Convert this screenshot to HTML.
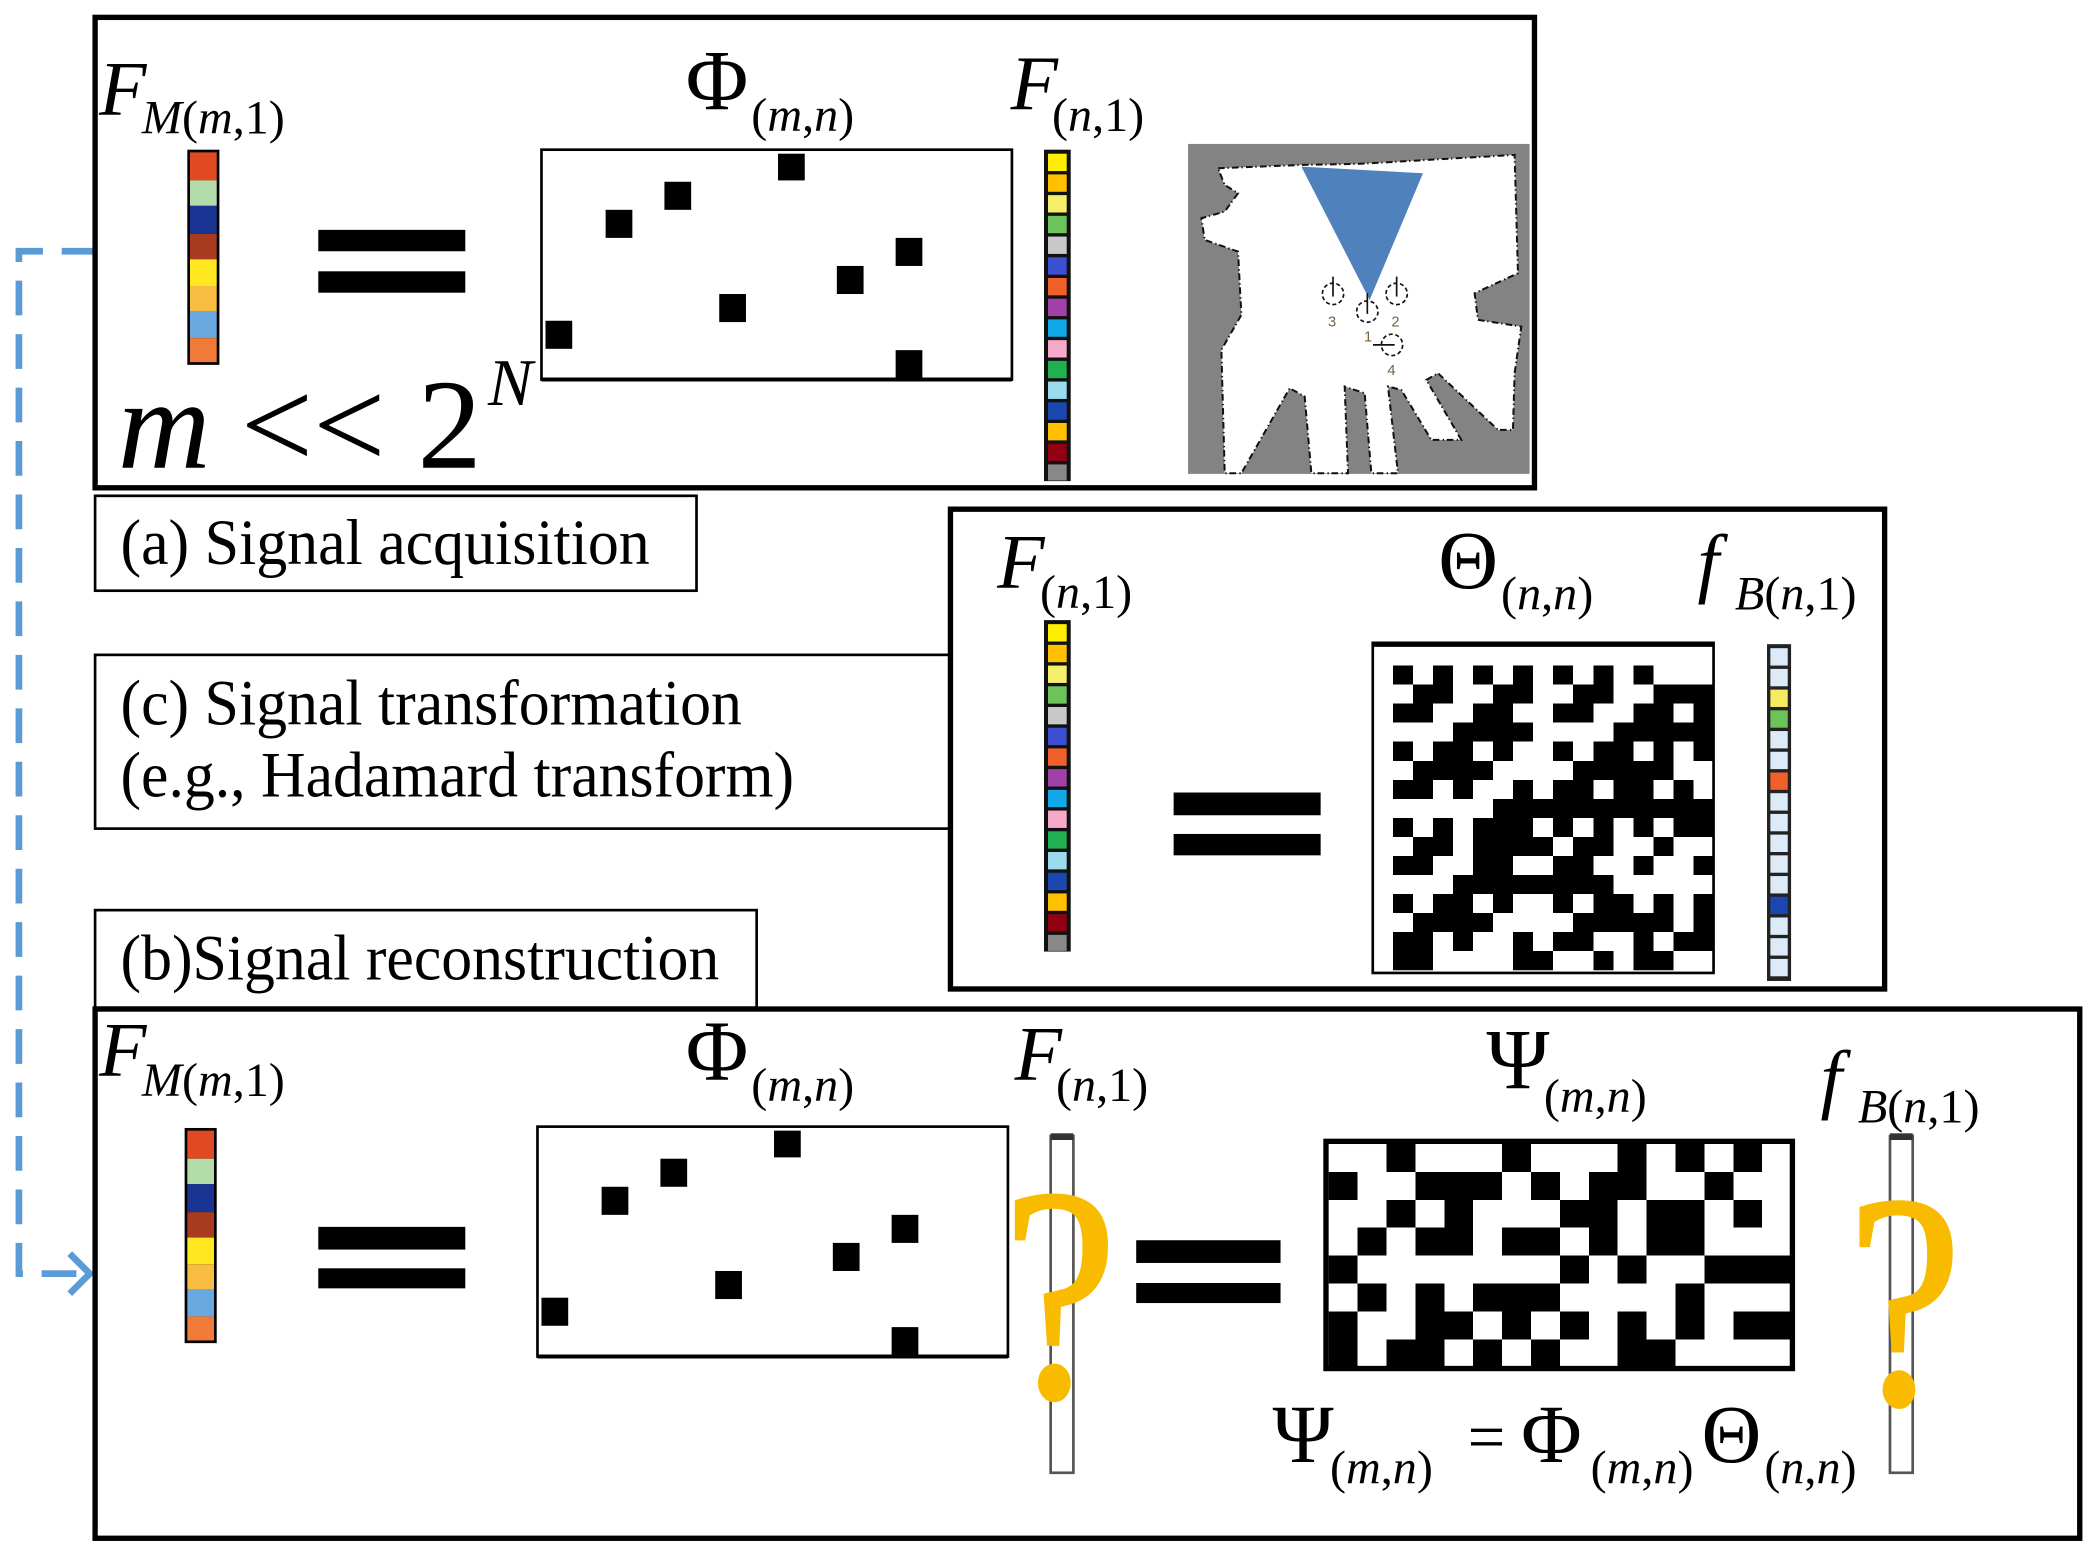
<!DOCTYPE html>
<html><head><meta charset="utf-8">
<style>html,body{margin:0;padding:0;background:#fff}svg{display:block}</style>
</head><body>
<svg xmlns="http://www.w3.org/2000/svg" width="2096" height="1565" viewBox="0 0 1568 1171" font-family="'Liberation Serif', serif">
<defs>
<g id="fbar">
<rect x="0" y="0" width="20" height="248" fill="#111"/>
<g transform="translate(3,3)">
<rect y="0" width="14" height="13" fill="#ffee00"/>
<rect y="15.5" width="14" height="13" fill="#ffc000"/>
<rect y="31" width="14" height="13" fill="#f5ef6a"/>
<rect y="46.5" width="14" height="13" fill="#6cc35a"/>
<rect y="62" width="14" height="13" fill="#c8c8c8"/>
<rect y="77.5" width="14" height="13" fill="#3c4fd0"/>
<rect y="93" width="14" height="13" fill="#f0602a"/>
<rect y="108.5" width="14" height="13" fill="#a040a8"/>
<rect y="124" width="14" height="13" fill="#10a8e8"/>
<rect y="139.5" width="14" height="13" fill="#f8a8c8"/>
<rect y="155" width="14" height="13" fill="#20b050"/>
<rect y="170.5" width="14" height="13" fill="#98dced"/>
<rect y="186" width="14" height="13" fill="#1a48b0"/>
<rect y="201.5" width="14" height="13" fill="#ffc000"/>
<rect y="217" width="14" height="13" fill="#900010"/>
<rect y="232.5" width="14" height="12" fill="#888"/>
</g>
</g>
<g id="fmbar">
<rect x="0" y="0" width="24" height="161" fill="#000"/>
<rect x="2" y="2" width="20" height="21" fill="#e04a22"/>
<rect x="2" y="23" width="20" height="19" fill="#b4dca8"/>
<rect x="2" y="42" width="20" height="21" fill="#1a3494"/>
<rect x="2" y="63" width="20" height="19" fill="#a83a20"/>
<rect x="2" y="82" width="20" height="20" fill="#ffe820"/>
<rect x="2" y="102" width="20" height="19" fill="#f8bc40"/>
<rect x="2" y="121" width="20" height="20" fill="#6aa8e0"/>
<rect x="2" y="141" width="20" height="18" fill="#f07a38"/>
</g>
<g id="phi">
<rect x="0" y="0" width="352" height="172" fill="#fff" stroke="#000" stroke-width="2"/>
<line x1="0" y1="172" x2="352" y2="172" stroke="#000" stroke-width="3"/>
<rect x="177" y="3" width="20" height="20"/>
<rect x="92" y="24" width="20" height="21"/>
<rect x="48" y="45" width="20" height="21"/>
<rect x="265" y="66" width="20" height="21"/>
<rect x="221" y="87" width="20" height="21"/>
<rect x="133" y="108" width="20" height="21"/>
<rect x="3" y="128" width="20" height="21"/>
<rect x="265" y="150" width="20" height="21"/>
</g>
</defs>

<!-- dashed connector -->
<path d="M72 188 H14 V953 H62" fill="none" stroke="#5b9bd5" stroke-width="5" stroke-dasharray="26 14"/>
<path d="M52 938 L67 953 L52 968" fill="none" stroke="#5b9bd5" stroke-width="5"/>

<!-- Box A -->
<rect x="71" y="13" width="1077" height="352" fill="none" stroke="#000" stroke-width="4"/>
<text x="74" y="86" font-size="58" font-style="italic">F</text>
<text x="106" y="100" font-size="36"><tspan font-style="italic">M</tspan>(<tspan font-style="italic">m</tspan>,1)</text>
<use href="#fmbar" x="140" y="112"/>
<rect x="238" y="172" width="110" height="16"/>
<rect x="238" y="203" width="110" height="16"/>
<use href="#phi" x="405" y="112"/>
<text x="513" y="82" font-size="64">Φ</text>
<text x="562" y="98" font-size="36">(<tspan font-style="italic">m</tspan>,<tspan font-style="italic">n</tspan>)</text>
<text x="756" y="82" font-size="58" font-style="italic">F</text>
<text x="787" y="98" font-size="36">(<tspan font-style="italic">n</tspan>,1)</text>
<use href="#fbar" x="781" y="112"/>
<text x="88" y="350" font-size="96" font-style="italic">m</text>
<text x="180" y="350" font-size="96">&lt;&lt; 2</text>
<text x="365" y="303" font-size="50" font-style="italic">N</text>

<!-- map -->
<svg x="886.3" y="104.7" width="261.8" height="258.1" viewBox="0 0 1050 1035" preserveAspectRatio="none">
<rect x="10" y="12" width="1025" height="990" fill="#838383"/>
<polygon points="100,85 350,75 520,72 990,45 1000,400 870,460 880,540 1010,560 990,700 985,870 940,870 760,700 725,720 830,900 740,900 650,750 610,740 640,1000 560,1000 540,760 480,740 490,1000 380,1000 360,770 315,745 170,1000 120,1000 110,630 170,525 160,335 60,300 50,235 120,215 160,160 120,135" fill="#fff" stroke="#111" stroke-width="6" stroke-dasharray="20 8 4 10"/>
<polygon points="350,80 715,100 555,480" fill="#4f81bd"/>
<g fill="none" stroke="#111" stroke-width="5" stroke-dasharray="12 8">
<circle cx="445" cy="462" r="32"/><circle cx="548" cy="515" r="32"/><circle cx="636" cy="462" r="32"/><circle cx="622" cy="615" r="32"/>
</g>
<g stroke="#111" stroke-width="5"><line x1="445" y1="410" x2="445" y2="470"/><line x1="548" y1="460" x2="548" y2="522"/><line x1="636" y1="410" x2="636" y2="470"/><line x1="565" y1="615" x2="630" y2="615"/></g>
<g font-family="'Liberation Sans',sans-serif" font-size="44" fill="#7a6040"><text x="430" y="560">3</text><text x="620" y="560">2</text><text x="538" y="605">1</text><text x="608" y="705">4</text></g>
</svg>

<!-- (a) label -->
<rect x="71" y="371" width="450" height="71" fill="none" stroke="#000" stroke-width="2"/>
<text x="90" y="422" font-size="48" textLength="396" lengthAdjust="spacingAndGlyphs">(a) Signal acquisition</text>

<!-- (c) label -->
<rect x="71" y="490" width="640" height="130" fill="none" stroke="#000" stroke-width="2"/>
<text x="90" y="542" font-size="48" textLength="465" lengthAdjust="spacingAndGlyphs">(c) Signal transformation</text>
<text x="90" y="596" font-size="48" textLength="504" lengthAdjust="spacingAndGlyphs">(e.g., Hadamard transform)</text>

<!-- Box C -->
<rect x="711" y="381" width="699" height="359" fill="#fff" stroke="#000" stroke-width="4"/>
<text x="746" y="440" font-size="58" font-style="italic">F</text>
<text x="778" y="455" font-size="36">(<tspan font-style="italic">n</tspan>,1)</text>
<use href="#fbar" x="781" y="464"/>
<rect x="878" y="593" width="110" height="17"/>
<rect x="878" y="624" width="110" height="16"/>
<text x="1076" y="440" font-size="62">Θ</text>
<text x="1123" y="456" font-size="36">(<tspan font-style="italic">n</tspan>,<tspan font-style="italic">n</tspan>)</text>
<text x="1270" y="440" font-size="58" font-style="italic">f</text>
<text x="1298" y="456" font-size="36"><tspan font-style="italic">B</tspan>(<tspan font-style="italic">n</tspan>,1)</text>
<rect x="1027" y="481" width="255" height="247" fill="#fff" stroke="#000" stroke-width="2"/>
<line x1="1027" y1="482" x2="1282" y2="482" stroke="#000" stroke-width="4"/>
<svg x="1042" y="498" width="240" height="228" viewBox="0 0 16 16" preserveAspectRatio="none" shape-rendering="crispEdges">
<g fill="#000">
<rect x="0" y="0" width="1" height="1"/><rect x="2" y="0" width="1" height="1"/><rect x="4" y="0" width="1" height="1"/><rect x="6" y="0" width="1" height="1"/><rect x="8" y="0" width="1" height="1"/><rect x="10" y="0" width="1" height="1"/><rect x="12" y="0" width="1" height="1"/>
<rect x="1" y="1" width="2" height="1"/><rect x="5" y="1" width="2" height="1"/><rect x="9" y="1" width="2" height="1"/><rect x="13" y="1" width="3" height="1"/>
<rect x="0" y="2" width="2" height="1"/><rect x="4" y="2" width="2" height="1"/><rect x="8" y="2" width="2" height="1"/><rect x="12" y="2" width="2" height="1"/><rect x="15" y="2" width="1" height="1"/>
<rect x="3" y="3" width="4" height="1"/><rect x="11" y="3" width="5" height="1"/>
<rect x="0" y="4" width="1" height="1"/><rect x="2" y="4" width="2" height="1"/><rect x="5" y="4" width="1" height="1"/><rect x="8" y="4" width="1" height="1"/><rect x="10" y="4" width="2" height="1"/><rect x="13" y="4" width="1" height="1"/><rect x="15" y="4" width="1" height="1"/>
<rect x="1" y="5" width="4" height="1"/><rect x="9" y="5" width="5" height="1"/>
<rect x="0" y="6" width="2" height="1"/><rect x="3" y="6" width="1" height="1"/><rect x="6" y="6" width="1" height="1"/><rect x="8" y="6" width="2" height="1"/><rect x="11" y="6" width="2" height="1"/><rect x="14" y="6" width="1" height="1"/>
<rect x="5" y="7" width="11" height="1"/>
<rect x="0" y="8" width="1" height="1"/><rect x="2" y="8" width="1" height="1"/><rect x="4" y="8" width="3" height="1"/><rect x="8" y="8" width="1" height="1"/><rect x="10" y="8" width="1" height="1"/><rect x="12" y="8" width="1" height="1"/><rect x="14" y="8" width="2" height="1"/>
<rect x="1" y="9" width="2" height="1"/><rect x="4" y="9" width="4" height="1"/><rect x="9" y="9" width="2" height="1"/><rect x="13" y="9" width="1" height="1"/>
<rect x="0" y="10" width="2" height="1"/><rect x="4" y="10" width="2" height="1"/><rect x="8" y="10" width="2" height="1"/><rect x="12" y="10" width="1" height="1"/><rect x="15" y="10" width="1" height="1"/>
<rect x="3" y="11" width="8" height="1"/>
<rect x="0" y="12" width="1" height="1"/><rect x="2" y="12" width="2" height="1"/><rect x="5" y="12" width="1" height="1"/><rect x="8" y="12" width="1" height="1"/><rect x="10" y="12" width="2" height="1"/><rect x="13" y="12" width="1" height="1"/><rect x="15" y="12" width="1" height="1"/>
<rect x="1" y="13" width="4" height="1"/><rect x="9" y="13" width="5" height="1"/><rect x="15" y="13" width="1" height="1"/>
<rect x="0" y="14" width="2" height="1"/><rect x="3" y="14" width="1" height="1"/><rect x="6" y="14" width="1" height="1"/><rect x="8" y="14" width="2" height="1"/><rect x="12" y="14" width="1" height="1"/><rect x="14" y="14" width="2" height="1"/>
<rect x="0" y="15" width="2" height="1"/><rect x="6" y="15" width="2" height="1"/><rect x="10" y="15" width="1" height="1"/><rect x="12" y="15" width="2" height="1"/>
</g></svg>
<!-- fB bar -->
<rect x="1322" y="482" width="18" height="252" fill="#222"/>
<g transform="translate(1324.5,485)">
<rect y="0" width="13" height="13" fill="#dcebf7"/><rect y="15.5" width="13" height="13" fill="#dcebf7"/><rect y="31" width="13" height="13" fill="#f5ea60"/><rect y="46.5" width="13" height="13" fill="#6cc35a"/><rect y="62" width="13" height="13" fill="#dcebf7"/><rect y="77.5" width="13" height="13" fill="#dcebf7"/><rect y="93" width="13" height="13" fill="#f0602a"/><rect y="108.5" width="13" height="13" fill="#dcebf7"/><rect y="124" width="13" height="13" fill="#dcebf7"/><rect y="139.5" width="13" height="13" fill="#dcebf7"/><rect y="155" width="13" height="13" fill="#dcebf7"/><rect y="170.5" width="13" height="13" fill="#dcebf7"/><rect y="186" width="13" height="13" fill="#1a48b0"/><rect y="201.5" width="13" height="13" fill="#dcebf7"/><rect y="217" width="13" height="13" fill="#dcebf7"/><rect y="232.5" width="13" height="13" fill="#dcebf7"/>
</g>

<!-- (b) label -->
<rect x="71" y="681" width="495" height="73" fill="#fff" stroke="#000" stroke-width="2"/>
<text x="90" y="733" font-size="48" textLength="448" lengthAdjust="spacingAndGlyphs">(b)Signal reconstruction</text>

<!-- Box B -->
<rect x="71" y="755" width="1485" height="396" fill="none" stroke="#000" stroke-width="4"/>
<text x="74" y="805" font-size="58" font-style="italic">F</text>
<text x="106" y="820" font-size="36"><tspan font-style="italic">M</tspan>(<tspan font-style="italic">m</tspan>,1)</text>
<use href="#fmbar" x="138" y="844"/>
<rect x="238" y="918" width="110" height="17"/>
<rect x="238" y="949" width="110" height="15"/>
<use href="#phi" x="402" y="843"/>
<text x="513" y="808" font-size="64">Φ</text>
<text x="562" y="824" font-size="36">(<tspan font-style="italic">m</tspan>,<tspan font-style="italic">n</tspan>)</text>
<text x="759" y="808" font-size="58" font-style="italic">F</text>
<text x="790" y="824" font-size="36">(<tspan font-style="italic">n</tspan>,1)</text>
<rect x="786" y="850" width="17" height="252" fill="#fff" stroke="#555" stroke-width="2"/>
<rect x="786" y="848" width="17" height="5" fill="#333"/>
<text transform="translate(793,1045) scale(0.85,1)" font-size="228" fill="#f9bb00" stroke="#f9bb00" stroke-width="2" text-anchor="middle">?</text>
<rect x="850" y="928" width="108" height="17"/>
<rect x="850" y="960" width="108" height="15"/>
<text x="1112" y="814" font-size="64">Ψ</text>
<text x="1155" y="832" font-size="36">(<tspan font-style="italic">m</tspan>,<tspan font-style="italic">n</tspan>)</text>
<text x="1362" y="826" font-size="58" font-style="italic">f</text>
<text x="1390" y="840" font-size="36"><tspan font-style="italic">B</tspan>(<tspan font-style="italic">n</tspan>,1)</text>
<rect x="992" y="854" width="349" height="170" fill="#fff" stroke="#000" stroke-width="4"/>
<svg x="994" y="856" width="346" height="167" viewBox="0 0 16 8" preserveAspectRatio="none" shape-rendering="crispEdges">
<g fill="#000">
<rect x="2" y="0" width="1" height="1"/><rect x="6" y="0" width="1" height="1"/><rect x="10" y="0" width="1" height="1"/><rect x="12" y="0" width="1" height="1"/><rect x="14" y="0" width="1" height="1"/>
<rect x="0" y="1" width="1" height="1"/><rect x="3" y="1" width="3" height="1"/><rect x="7" y="1" width="1" height="1"/><rect x="9" y="1" width="2" height="1"/><rect x="13" y="1" width="1" height="1"/>
<rect x="2" y="2" width="1" height="1"/><rect x="4" y="2" width="1" height="1"/><rect x="8" y="2" width="2" height="1"/><rect x="11" y="2" width="2" height="1"/><rect x="14" y="2" width="1" height="1"/>
<rect x="1" y="3" width="1" height="1"/><rect x="3" y="3" width="2" height="1"/><rect x="6" y="3" width="2" height="1"/><rect x="9" y="3" width="1" height="1"/><rect x="11" y="3" width="2" height="1"/>
<rect x="0" y="4" width="1" height="1"/><rect x="8" y="4" width="1" height="1"/><rect x="10" y="4" width="1" height="1"/><rect x="13" y="4" width="3" height="1"/>
<rect x="1" y="5" width="1" height="1"/><rect x="3" y="5" width="1" height="1"/><rect x="5" y="5" width="3" height="1"/><rect x="12" y="5" width="1" height="1"/>
<rect x="0" y="6" width="1" height="1"/><rect x="3" y="6" width="2" height="1"/><rect x="6" y="6" width="1" height="1"/><rect x="8" y="6" width="1" height="1"/><rect x="10" y="6" width="1" height="1"/><rect x="12" y="6" width="1" height="1"/><rect x="14" y="6" width="2" height="1"/>
<rect x="0" y="7" width="1" height="1"/><rect x="2" y="7" width="2" height="1"/><rect x="5" y="7" width="1" height="1"/><rect x="7" y="7" width="1" height="1"/><rect x="10" y="7" width="2" height="1"/>
</g></svg>
<rect x="1414" y="850" width="17" height="252" fill="#fff" stroke="#555" stroke-width="2"/>
<rect x="1414" y="848" width="17" height="5" fill="#333"/>
<text transform="translate(1425,1050) scale(0.85,1)" font-size="228" fill="#f9bb00" stroke="#f9bb00" stroke-width="2" text-anchor="middle">?</text>
<!-- formula -->
<text x="952" y="1094" font-size="62">Ψ</text>
<text x="995" y="1110" font-size="36">(<tspan font-style="italic">m</tspan>,<tspan font-style="italic">n</tspan>)</text>
<text x="1098" y="1092" font-size="50">=</text>
<text x="1138" y="1094" font-size="62">Φ</text>
<text x="1190" y="1110" font-size="36">(<tspan font-style="italic">m</tspan>,<tspan font-style="italic">n</tspan>)</text>
<text x="1273" y="1094" font-size="62">Θ</text>
<text x="1320" y="1110" font-size="36">(<tspan font-style="italic">n</tspan>,<tspan font-style="italic">n</tspan>)</text>
</svg>
</body></html>
